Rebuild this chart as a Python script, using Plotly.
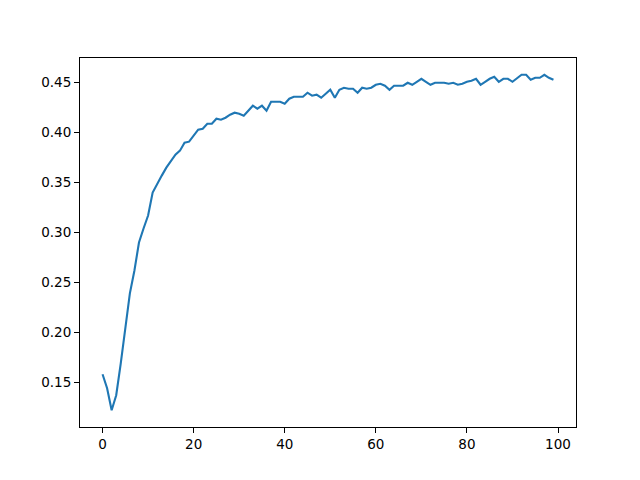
import plotly.graph_objects as go

epochs = list(range(100))
values = [
    0.158, 0.144, 0.122, 0.137, 0.169, 0.205, 0.239, 0.262, 0.290, 0.304,
    0.317, 0.340, 0.349, 0.357, 0.365, 0.372, 0.378, 0.382, 0.390, 0.391,
    0.397, 0.403, 0.404, 0.409, 0.409, 0.414, 0.413, 0.415, 0.418, 0.420,
    0.419, 0.417, 0.422, 0.427, 0.424, 0.427, 0.422, 0.431, 0.431, 0.431,
    0.429, 0.434, 0.436, 0.436, 0.436, 0.440, 0.437, 0.438, 0.435, 0.439,
    0.443, 0.435, 0.443, 0.445, 0.444, 0.444, 0.440, 0.445, 0.444, 0.445,
    0.448, 0.449, 0.447, 0.443, 0.447, 0.447, 0.447, 0.450, 0.448, 0.451,
    0.454, 0.451, 0.448, 0.450, 0.450, 0.450, 0.449, 0.450, 0.448, 0.449,
    0.451, 0.452, 0.454, 0.448, 0.451, 0.454, 0.456, 0.451, 0.454, 0.454,
    0.451, 0.455, 0.458, 0.458, 0.453, 0.455, 0.455, 0.458, 0.455, 0.453,
]

fig = go.Figure()
fig.add_trace(go.Scatter(x=epochs, y=values, mode="lines",
                         line=dict(color="#1f77b4", width=2.1)))

axis_style = dict(showgrid=False, zeroline=False, showline=True, linecolor="black",
                  linewidth=1, mirror=True, ticks="outside", ticklen=5, tickwidth=1,
                  tickcolor="black", tickfont=dict(family="DejaVu Sans", size=13.5, color="black"))

# page body adds an 8px offset, so margins are shifted to compensate
fig.update_layout(
    width=640, height=480,
    margin=dict(l=72, r=72, t=50, b=61),
    plot_bgcolor="white", paper_bgcolor="white",
    showlegend=False,
    xaxis=dict(range=[-4.95, 103.95], tickvals=[0, 20, 40, 60, 80, 100], **axis_style),
    yaxis=dict(range=[0.1052, 0.4748], tickvals=[0.15, 0.20, 0.25, 0.30, 0.35, 0.40, 0.45],
               tickformat=".2f", **axis_style),
)

fig.write_html("out.html")
